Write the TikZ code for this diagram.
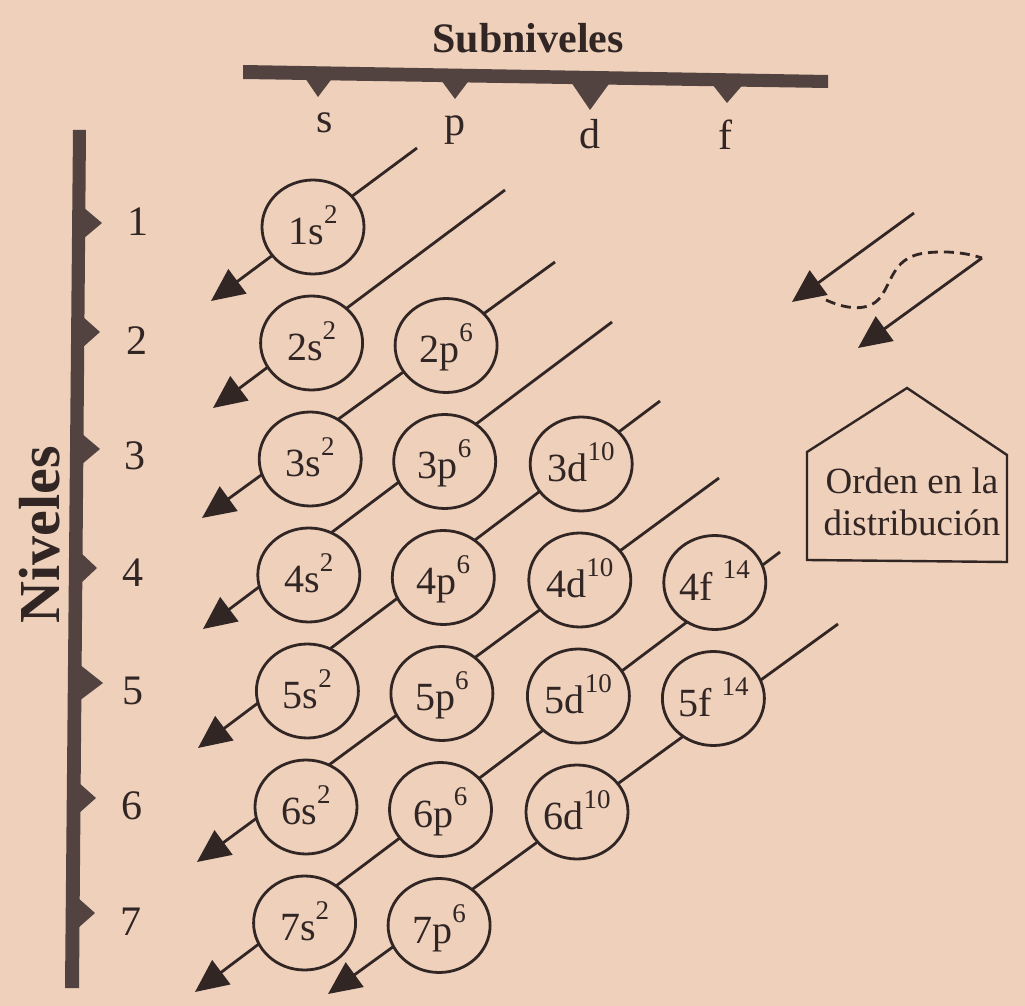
\documentclass[tikz,border=0pt]{standalone}
\usepackage{fontspec}
\setmainfont{Liberation Serif}
\usetikzlibrary{arrows.meta,shapes.geometric}
\definecolor{paper}{RGB}{238,208,187}
\definecolor{ink}{RGB}{50,38,37}
\definecolor{barink}{RGB}{82,67,65}
\pgfdeclarelayer{paperlayer}
\pgfdeclarelayer{linelayer}
\pgfsetlayers{paperlayer,linelayer,main}
\newcommand{\orbsup}[1]{\raisebox{10.5pt}{\fontsize{13.5}{13.5}\selectfont #1}}
\begin{document}
\begin{tikzpicture}[x=0.5pt,y=-0.5pt,
  orb/.style={ellipse, draw=ink, line width=1.4pt, fill=paper,
    minimum width=51pt, minimum height=47pt, inner sep=0pt,
    text height=20.5pt, text depth=3pt,
    font=\fontsize{20}{20}\selectfont, text=ink},
  diag/.style={draw=ink, line width=1.4pt,
    -{Triangle[length=16.5pt,width=15pt]}},
  lvl/.style={font=\fontsize{21}{21}\selectfont, text=ink, inner sep=0pt},
  sub/.style={font=\fontsize{21}{21}\selectfont, text=ink, inner sep=0pt, anchor=base},
  bar/.style={fill=barink}]
\begin{pgfonlayer}{paperlayer}
\fill[paper] (0,0) rectangle (1025,1006);
\end{pgfonlayer}
\useasboundingbox (0,0) rectangle (1025,1006);

% title and top bar
\node[anchor=base west, inner sep=0pt, text=ink, font=\bfseries\fontsize{21}{21}\selectfont] (subn) at (432,53) {Subniveles};
\fill[bar] (243,65) -- (828,75) -- (828,88) -- (243,79) -- cycle;
\fill[bar] (305,78) -- (318,97) -- (332,78.5) -- cycle;
\fill[bar] (441,80) -- (455,99) -- (469,80.5) -- cycle;
\fill[bar] (571,82) -- (590,110) -- (610,82.5) -- cycle;
\fill[bar] (712,84) -- (727,103) -- (743,84.5) -- cycle;
\node[sub] (ls) at (325,133) {s};
\node[sub] (lp) at (455,136) {p};
\node[sub] (ld) at (590,149) {d};
\node[sub] (lf) at (725,150) {f};

% left bar
\node[rotate=90, inner sep=0pt, text=ink, font=\bfseries\fontsize{29}{29}\selectfont] (niv) at (40,535) {Niveles};
\fill[bar] (73,130) -- (86,130) -- (79,988) -- (65,988) -- cycle;
\fill[bar] (83,207) -- (102,223) -- (83,239) -- cycle;
\fill[bar] (82,316) -- (100,332) -- (82,348) -- cycle;
\fill[bar] (81,433) -- (100,449) -- (81,465) -- cycle;
\fill[bar] (80,552) -- (97,568) -- (80,584) -- cycle;
\fill[bar] (79,664) -- (103,683) -- (79,701) -- cycle;
\fill[bar] (78,782) -- (96,798) -- (78,814) -- cycle;
\fill[bar] (77,897) -- (95,913) -- (77,929) -- cycle;
\node[lvl] (n1) at (138,222) {1};
\node[lvl] (n2) at (137,341) {2};
\node[lvl] (n3) at (135,456) {3};
\node[lvl] (n4) at (133,573) {4};
\node[lvl] (n5) at (133,691) {5};
\node[lvl] (n6) at (132,806) {6};
\node[lvl] (n7) at (131,922) {7};

% orbitals
\node[orb] (o1s) at (313,227) {1s\orbsup{2}};
\node[orb] (o2s) at (311.6,343) {2s\orbsup{2}};
\node[orb] (o3s) at (310.2,459) {3s\orbsup{2}};
\node[orb] (o4s) at (308.8,575) {4s\orbsup{2}};
\node[orb] (o5s) at (307.4,691) {5s\orbsup{2}};
\node[orb] (o6s) at (306,807) {6s\orbsup{2}};
\node[orb] (o7s) at (304.6,923) {7s\orbsup{2}};
\node[orb] (o2p) at (446.1,345.5) {2p\orbsup{6}};
\node[orb] (o3p) at (444.7,461.5) {3p\orbsup{6}};
\node[orb] (o4p) at (443.3,577.5) {4p\orbsup{6}};
\node[orb] (o5p) at (441.9,693.5) {5p\orbsup{6}};
\node[orb] (o6p) at (440.5,809.5) {6p\orbsup{6}};
\node[orb] (o7p) at (439.1,925.5) {7p\orbsup{6}};
\node[orb] (o3d) at (581.2,464) {3d\orbsup{10}};
\node[orb] (o4d) at (579.8,580) {4d\orbsup{10}};
\node[orb] (o5d) at (578.4,696) {5d\orbsup{10}};
\node[orb] (o6d) at (577,812) {6d\orbsup{10}};
\node[orb] (o4f) at (714.8,582.5) {4f\hspace{5pt}\orbsup{14}};
\node[orb] (o5f) at (713.4,698.5) {5f\hspace{5pt}\orbsup{14}};

% diagonal ends
\coordinate (t1) at (417,148); \coordinate (a1) at (211,301);
\coordinate (t2) at (505,190); \coordinate (a2) at (213,408);
\coordinate (t3) at (555,262); \coordinate (a3) at (202,518);
\coordinate (t4) at (612,322); \coordinate (a4) at (203,629);
\coordinate (t5) at (660,401); \coordinate (a5) at (198,748);
\coordinate (t6) at (719,478); \coordinate (a6) at (197,862);
\coordinate (t7) at (780,552); \coordinate (a7) at (195,992);
\coordinate (t8) at (838,624); \coordinate (a8) at (328,994);
\begin{pgfonlayer}{linelayer}
\foreach \k in {1,...,8} {\draw[diag] (t\k) -- (a\k);}
\end{pgfonlayer}

% legend
\coordinate (la1s) at (914,213); \coordinate (la1e) at (792,302);
\coordinate (la2s) at (982,258); \coordinate (la2e) at (858,348);
\draw[diag] (la1s) -- (la1e);
\draw[diag] (la2s) -- (la2e);
\coordinate (dq) at (826,300);
\draw[ink, line width=1.4pt, dash pattern=on 5pt off 3pt]
  (dq) .. controls (850,311) and (872,311) .. (882,295)
  .. controls (893,278) and (895,257) .. (925,253)
  .. controls (950,250) and (970,254) .. (la2s);

\node[align=center, inner sep=0pt, text=ink, font=\fontsize{18.5}{21}\selectfont] (orden) at (912,502) {Orden en la\\distribución};
\draw[ink, line width=1.2pt] (807,560) -- (807,452) -- (907,388) -- (1007,455) -- (1007,562) -- cycle;
\end{tikzpicture}
\end{document}
